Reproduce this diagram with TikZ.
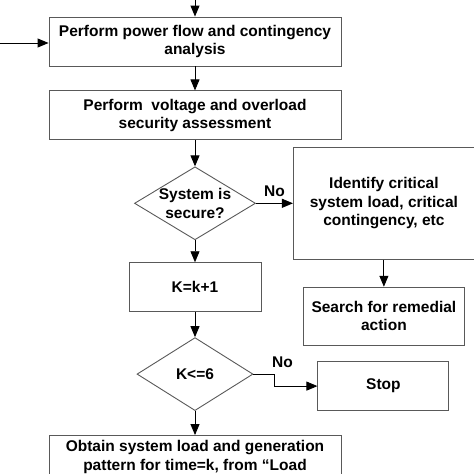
\documentclass[tikz,border=0pt]{standalone}
\usepackage{fontspec}
\setmainfont{Liberation Sans}
\usetikzlibrary{positioning,shapes.geometric,arrows.meta}

\tikzset{
    stepbox/.style={draw=black!65, line width=0.9pt, align=center, inner sep=2pt},
    decision/.style={diamond, draw=black!65, line width=0.9pt, inner sep=0pt,
        minimum width=#1, minimum height=73pt},
    flow/.style={line width=0.9pt, -{Triangle[length=11pt,width=9pt]}}
}

\begin{document}
\begin{tikzpicture}[x=1pt, y=-1pt, node distance=24pt,
    font=\bfseries\fontsize{15.5}{18.5}\selectfont]
    \useasboundingbox (0,0) rectangle (474,474);

    % main column
    \node[stepbox, minimum width=292pt, minimum height=49pt] (power) at (195,41.5)
        {Perform power flow and contingency\\analysis};
    \node[stepbox, minimum width=292pt, minimum height=49pt, below=24pt of power] (assess)
        {Perform\ \ voltage and overload\\security assessment};
    \node[decision=121pt, below=26pt of assess,
        label={[align=center]center:System is\\secure?}] (secure) {};
    \node[stepbox, minimum width=132pt, minimum height=49pt, below=22pt of secure] (incr)
        {K=k+1};
    \node[decision=116pt, below=25pt of incr,
        label={center:K<=6}] (limit) {};
    \node[stepbox, minimum width=292pt, minimum height=62pt, below=24pt of limit,
        anchor=north, inner sep=3pt] (obtain)
        {Obtain system load and generation\\pattern for time=k, from “Load\\Forecasting” and “Unit Commitment”};

    % right column
    \node[stepbox, minimum width=181pt, minimum height=112pt, right=37pt of secure] (critical)
        {Identify critical\\system load, critical\\contingency, etc};
    \node[stepbox, minimum width=161pt, minimum height=58pt, below=27pt of critical] (remedy)
        {Search for remedial\\action};
    \node[stepbox, minimum width=131pt, minimum height=49pt, right=64pt of limit,
        yshift=-12pt] (stop) {Stop};

    % connectors
    \coordinate (start) at (195,0);
    \coordinate (back) at (0,43);
    \draw[flow] (start) -- (power);
    \draw[flow] (back) -- (back -| power.west);
    \draw[flow] (power) -- (assess);
    \draw[flow] (assess) -- (secure);
    \draw[flow] (secure) -- (incr);
    \draw[flow] (incr) -- (limit);
    \draw[flow] (limit) -- (obtain);
    \draw[flow] (secure.east) -- node[above=3pt] (no1) {No} (critical.west |- secure.east);
    \draw[flow] (critical) -- (critical |- remedy.north);
    \draw[flow] (limit.east) -- ++(21,0) node[above=3pt, pos=1, xshift=8pt] (no2) {No}
        |- (stop.west);
\end{tikzpicture}
\end{document}
